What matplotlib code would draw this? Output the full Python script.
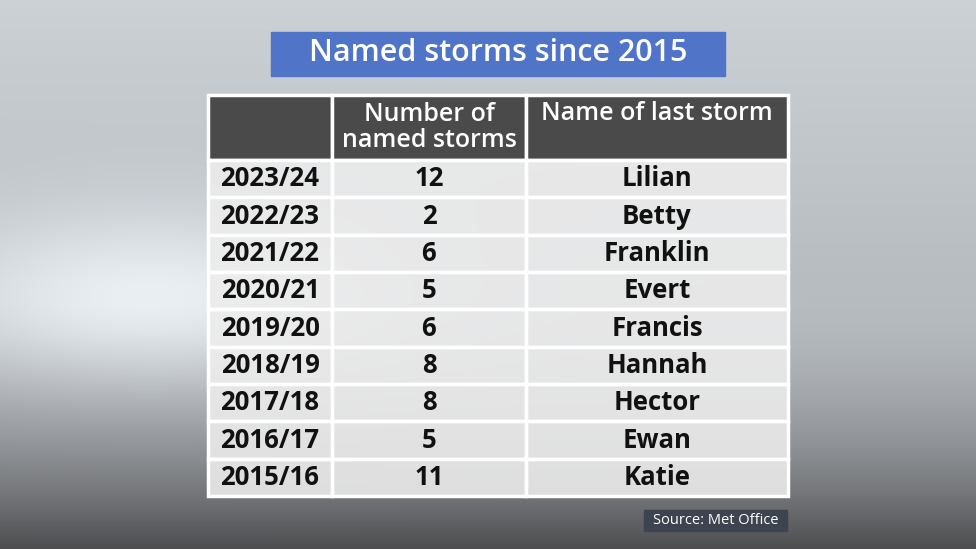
import matplotlib
matplotlib.use("Agg")
import matplotlib.pyplot as plt
import numpy as np
from matplotlib.patches import Rectangle

seasons = ["2023/24","2022/23","2021/22","2020/21","2019/20","2018/19","2017/18","2016/17","2015/16"]
counts = [12, 2, 6, 5, 6, 8, 8, 5, 11]
last_names = ["Lilian","Betty","Franklin","Evert","Francis","Hannah","Hector","Ewan","Katie"]
headers = ["", "Number of\nnamed storms", "Name of last storm"]

W, H = 976, 549
fig = plt.figure(figsize=(W/100, H/100), dpi=100)
ax = fig.add_axes([0, 0, 1, 1])
ax.set_xlim(0, W); ax.set_ylim(H, 0); ax.axis("off")

yy, xx = np.mgrid[0:H, 0:W]
top = np.array([0.80, 0.82, 0.84]); mid = np.array([0.72, 0.74, 0.76]); bot = np.array([0.30, 0.30, 0.31])
t = yy / H
img = np.where((t < 0.5)[..., None], top + (mid - top) * (t / 0.5)[..., None],
               mid + (bot - mid) * ((t - 0.5) / 0.5)[..., None] ** 2)
wave = np.exp(-((yy - 300) / 90.0) ** 2) * np.exp(-((xx - 150) / 250.0) ** 2) * 0.2
img = np.clip(img + wave[..., None], 0, 1)
ax.imshow(img, extent=[0, W, H, 0], aspect="auto", zorder=0)

font = "Open Sans"
ax.add_patch(Rectangle((271, 32), 454, 44, color="#4f74c8", zorder=2))
ax.text(498, 53, "Named storms since 2015", ha="center", va="center", color="white",
        fontsize=22, family=font, weight="semibold", zorder=3)

cols = [208, 332, 526, 788]
hdr_top, hdr_bot, bottom = 95, 160, 496
rh = (bottom - hdr_bot) / len(seasons)
for i in range(3):
    ax.add_patch(Rectangle((cols[i], hdr_top), cols[i+1]-cols[i], hdr_bot-hdr_top,
                           facecolor="#4a4a4a", edgecolor="white", lw=2.5, zorder=2))
for i in (1, 2):
    ax.text((cols[i]+cols[i+1])/2, (hdr_top+hdr_bot)/2 + (0 if i == 1 else -14), headers[i],
            ha="center", va="center", color="white", fontsize=18, family=font,
            weight="semibold", linespacing=1.02, zorder=3)
for r in range(len(seasons)):
    y0 = hdr_bot + r*rh
    vals = [seasons[r], str(counts[r]), last_names[r]]
    for i in range(3):
        ax.add_patch(Rectangle((cols[i], y0), cols[i+1]-cols[i], rh,
                               facecolor=(0.93, 0.93, 0.93, 0.88), edgecolor="white", lw=2.5, zorder=2))
        ax.text((cols[i]+cols[i+1])/2, y0 + rh/2, vals[i], ha="center", va="center",
                color="#111111", fontsize=18.5, family=font, weight="bold", zorder=3)

ax.add_patch(Rectangle((644, 510), 143, 21, color="#3e4350", zorder=2))
ax.text(715.5, 520.5, "Source: Met Office", ha="center", va="center", color="white",
        fontsize=10.5, family=font, zorder=3)

fig.savefig("out.png", dpi=100)
